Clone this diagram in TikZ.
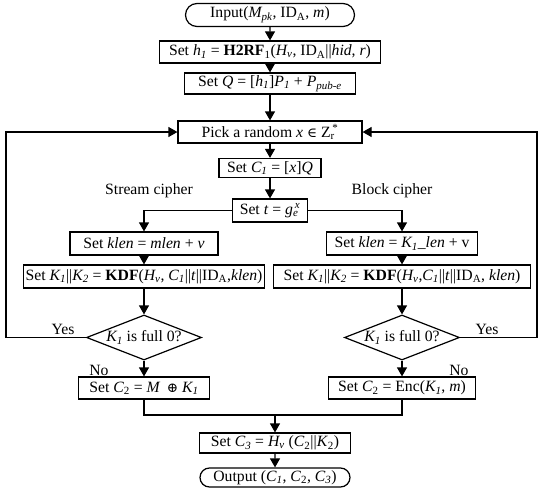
\documentclass[tikz,border=0pt]{standalone}
\usepackage{fontspec}
\setmainfont{Liberation Serif}
\newfontfamily\symf{DejaVu Serif}
\usetikzlibrary{arrows.meta,shapes.geometric,shapes.misc}
\newcommand\sbs[1]{\textsubscript{#1}}
\newcommand\sps[1]{\textsuperscript{#1}}
\begin{document}
\begin{tikzpicture}[x=1pt,y=-1pt,
  every node/.style={font=\fontsize{15.7}{18}\selectfont},
  box/.style={draw,line width=1.2pt,inner sep=0pt,minimum height=22pt},
  term/.style={draw,line width=1.2pt,rounded rectangle,inner sep=0pt,minimum height=22pt},
  dec/.style={draw,line width=1.2pt,diamond,aspect=2.5,inner sep=0pt,minimum width=115pt,minimum height=45pt},
  arr/.style={line width=1.2pt,-{Triangle[length=9pt,width=10pt]}},
  ln/.style={line width=1.2pt},
  lbl/.style={inner sep=0pt}]
\useasboundingbox (0,0) rectangle (550,501);
\node[term,minimum width=169pt,minimum height=23pt] (in) at (270,15) {Input(\textit{M\sbs{pk}}, ID\sbs{A}, \textit{m})};
\node[box,minimum width=221pt] (h1) at (270,52) {Set \textit{h\sbs{1}} = \textbf{H2RF}\sbs{1}(\textit{H\sbs{v}}, ID\sbs{A}||\textit{hid}, \textit{r})};
\node[box,minimum width=171pt,minimum height=21pt] (q) at (270,83.5) {Set \textit{Q} = [\textit{h\sbs{1}}]\textit{P\sbs{1}} + \textit{P\sbs{pub-e}}};
\node[box,minimum width=184pt] (pick) at (270,132) {Pick a random \textit{x} {\symf\fontsize{13.5}{15}\selectfont ∈} Z\makebox[0pt][l]{\sbs{r}}\sps{\,*}};
\node[box,minimum width=102pt,minimum height=19pt] (c1) at (270,168) {Set \textit{C\sbs{1}} = [\textit{x}]\textit{Q}};
\node[box,minimum width=75pt,minimum height=23pt] (t) at (270,210.5) {Set \textit{t} = \textit{g\makebox[0pt][l]{\sbs{e}}}\sps{\,\textit{x}}};
\node[box,minimum width=148pt,minimum height=23pt] (kl) at (144,243.5) {Set \textit{klen} = \textit{mlen} + \textit{v}};
\node[box,minimum width=151pt,minimum height=23pt] (kr) at (402,243.5) {Set \textit{klen} = \textit{K\sbs{1}\_len} + v};
\node[box,minimum width=241pt,minimum height=23pt] (kdfl) at (144,276.5) {Set \textit{K\sbs{1}}||\textit{K\sbs{2}} = \textbf{KDF}(\textit{H\sbs{v}}, \textit{C\sbs{1}}||\textit{t}||ID\sbs{A},\textit{klen})};
\node[box,minimum width=257pt,minimum height=23pt] (kdfr) at (402,276.5) {Set \textit{K\sbs{1}}||\textit{K\sbs{2}} = \textbf{KDF}(\textit{H\sbs{v}},\textit{C\sbs{1}}||\textit{t}||ID\sbs{A}, \textit{klen})};
\node[dec] (dl) at (144,337.5) {\textit{K\sbs{1}} is full 0?};
\node[dec] (dr) at (402,337.5) {\textit{K\sbs{1}} is full 0?};
\node[box,minimum width=131pt] (c2l) at (144,388) {Set \textit{C}\sbs{2} = \textit{M} \,{\symf\fontsize{13.5}{15}\selectfont ⊕} \textit{K\sbs{1}}};
\node[box,minimum width=147pt] (c2r) at (402,388) {Set \textit{C}\sbs{2} = Enc(\textit{K\sbs{1}}, \textit{m})};
\node[box,minimum width=151pt,minimum height=20pt] (c3) at (275,443) {Set \textit{C\sbs{3}} = \textit{H\sbs{v}} (\textit{C}\sbs{2}||\textit{K}\sbs{2})};
\node[term,minimum width=150pt,minimum height=19pt] (out) at (275,477.5) {Output (\textit{C\sbs{1}}, \textit{C}\sbs{2}, \textit{C\sbs{3}})};
\node[lbl] (sc) at (149,191) {Stream cipher};
\node[lbl] (bc) at (392,191) {Block cipher};
\node[lbl] (yl) at (63,329) {Yes};
\node[lbl] (yr) at (487,329) {Yes};
\node[lbl] (nl) at (99,370) {No};
\node[lbl] (nr) at (459,370) {No};
\coordinate (lx) at (6,0);
\coordinate (rx) at (537,0);
\coordinate (m) at (275,415);
\draw[arr] (in) -- (h1);
\draw[arr] (h1) -- (q);
\draw[arr] (q) -- (pick);
\draw[arr] (pick) -- (c1);
\draw[arr] (c1) -- (t);
\draw[arr] (t.west) -| (kl.north);
\draw[arr] (t.east) -| (kr.north);
\draw[arr] (kl) -- (kdfl);
\draw[arr] (kr) -- (kdfr);
\draw[arr] (kdfl) -- (dl);
\draw[arr] (kdfr) -- (dr);
\draw[arr] (dl) -- (c2l);
\draw[arr] (dr) -- (c2r);
\draw[arr] (dl.west) -- (dl.west -| lx) |- (pick.west);
\draw[arr] (dr.east) -- (dr.east -| rx) |- (pick.east);
\draw[ln] (c2l.south) -- (c2l.south |- m) -- (c2r.south |- m) -- (c2r.south);
\draw[arr] (m) -- (c3);
\draw[arr] (c3) -- (out);
\end{tikzpicture}
\end{document}
